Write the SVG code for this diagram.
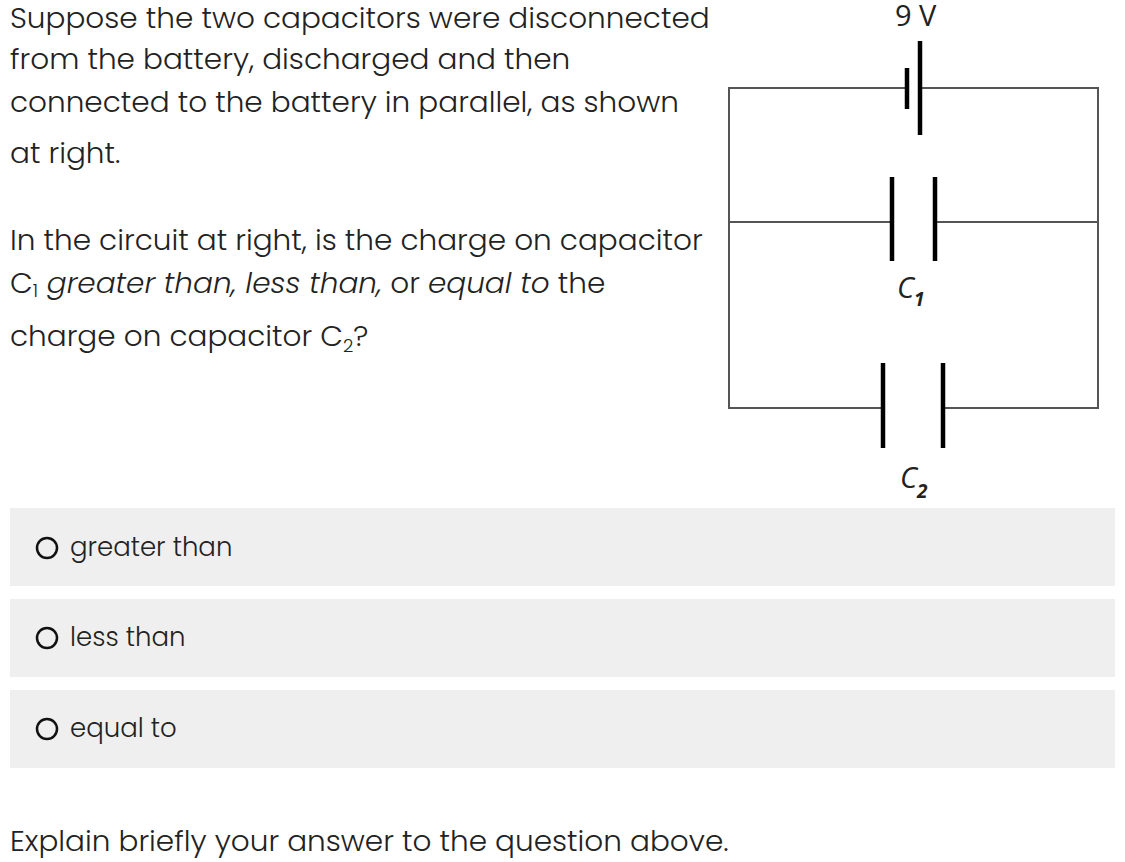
<svg xmlns="http://www.w3.org/2000/svg" width="1125" height="862" viewBox="0 0 1125 862">
<style>
.t{font-family:Poppins,"Open Sans","Liberation Sans",sans-serif;font-size:29.5px;fill:#222;font-weight:300}
.o{font-family:Poppins,"Open Sans","Liberation Sans",sans-serif;font-size:26px;fill:#222;font-weight:300}
.w{stroke:#555;stroke-width:2;fill:none}
.p{stroke:#000;stroke-width:4.5}
.l{font-family:"Open Sans","DejaVu Sans",sans-serif;font-size:29px;fill:#222}
.box{fill:#efefef}
.r{fill:none;stroke:#111;stroke-width:2.5}
</style>
<rect width="1125" height="862" fill="#fff"/>
<g id="question">
<text class="t" x="10" y="28">Suppose the two capacitors were disconnected</text>
<text class="t" x="10" y="69">from the battery, discharged and then</text>
<text class="t" x="10" y="112">connected to the battery in parallel, as shown</text>
<text class="t" x="10" y="163">at right.</text>
<text class="t" x="10" y="250">In the circuit at right, is the charge on capacitor</text>
<text class="t" x="10" y="293">C<tspan font-size="18" dy="4">1</tspan><tspan dy="-4" font-style="italic"> greater than, less than,</tspan> or <tspan font-style="italic">equal to</tspan> the</text>
<text class="t" x="10" y="346">charge on capacitor C<tspan font-size="18" dy="6">2</tspan><tspan dy="-6">?</tspan></text>
</g>
<g id="circuit">
<path class="w" d="M907 88H729V408H883M943 408H1098V88H920M729 222H892M935 222H1098"/>
<line class="p" x1="907" y1="68" x2="907" y2="109"/>
<line class="p" x1="920" y1="41" x2="920" y2="135"/>
<line class="p" x1="892" y1="177" x2="892" y2="261"/>
<line class="p" x1="935" y1="177" x2="935" y2="261"/>
<line class="p" x1="883" y1="363" x2="883" y2="448"/>
<line class="p" x1="943" y1="363" x2="943" y2="448"/>
<text class="l" x="895" y="26">9 V</text>
<text class="l" x="897" y="298" font-size="33" font-style="italic">C<tspan font-size="19" dy="8" font-weight="bold">1</tspan></text>
<text class="l" x="900" y="488" font-size="33" font-style="italic">C<tspan font-size="19" dy="10" font-weight="bold">2</tspan></text>
</g>
<g id="opt1"><rect class="box" x="10" y="508" width="1105" height="78"/><circle class="r" cx="47" cy="548" r="10"/><text class="o" x="70" y="556">greater than</text></g>
<g id="opt2"><rect class="box" x="10" y="599" width="1105" height="78"/><circle class="r" cx="47" cy="638" r="10"/><text class="o" x="70" y="646">less than</text></g>
<g id="opt3"><rect class="box" x="10" y="690" width="1105" height="78"/><circle class="r" cx="47" cy="729" r="10"/><text class="o" x="70" y="737">equal to</text></g>
<text class="t" x="10" y="851">Explain briefly your answer to the question above.</text>
</svg>
